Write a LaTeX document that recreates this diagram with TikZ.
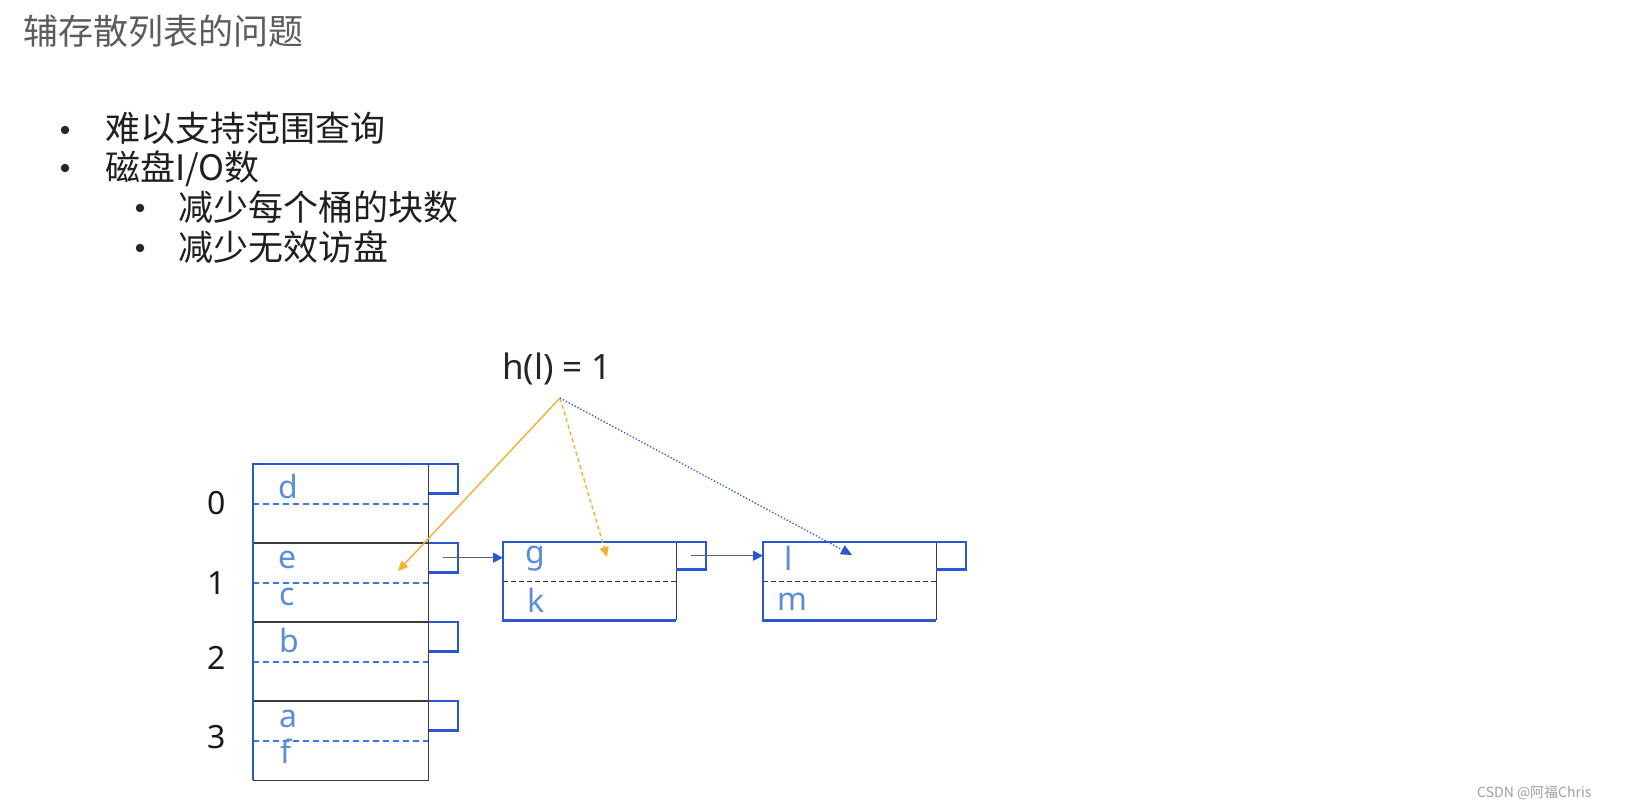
\documentclass[tikz,border=0pt]{standalone}
\usepackage{fontspec}
\setmainfont{Noto Sans}
\newfontfamily\cjk{Noto Sans CJK SC}
\usetikzlibrary{arrows.meta,positioning,calc}
\definecolor{edgeb}{HTML}{2A57D6}
\definecolor{edgeg}{HTML}{3C3C3C}
\definecolor{keyc}{HTML}{5A8CE0}
\definecolor{sepb}{HTML}{3A78F2}
\definecolor{hitc}{HTML}{F2B230}
\definecolor{titlec}{HTML}{5C5C5C}
\definecolor{markc}{HTML}{A0A0A0}
\tikzset{
  bkt/.style={rectangle, inner sep=0pt, minimum width=175pt, minimum height=79pt, anchor=north west},
  blk/.style={rectangle, inner sep=0pt, minimum width=173pt, minimum height=78pt, anchor=north west},
  ptr/.style={rectangle, inner sep=0pt, minimum size=29pt, anchor=north west},
  ptrs/.style={rectangle, inner sep=0pt, minimum width=29pt, minimum height=27pt, anchor=north west},
  bline/.style={draw=edgeb, line width=2.2pt},
  gline/.style={draw=edgeg, line width=1.6pt},
  sepline/.style={draw=sepb, line width=1.6pt, dash pattern=on 6pt off 4pt},
  dline/.style={draw=edgeg, line width=1.3pt, dash pattern=on 5pt off 3pt},
  keyl/.style={text=keyc, font=\fontsize{32}{38}\selectfont, inner sep=0pt, anchor=base west},
  idx/.style={text=black!90, font=\fontsize{32}{38}\selectfont, inner sep=0pt, anchor=base},
  bul/.style={text=black!88, font=\cjk\fontsize{35}{42}\selectfont, inner sep=0pt, anchor=base west},
  dotb/.style={circle, fill=black!85, inner sep=0pt, minimum size=8.5pt},
  link/.style={-{Triangle[length=10pt,width=10pt,color=edgeb]}, draw=edgeg!80, line width=1.3pt},
  hit/.style={-{Triangle[length=10pt,width=9pt]}, draw=hitc, line width=1.4pt},
  probe/.style={-{Triangle[length=11pt,width=10pt]}, draw=edgeb, line width=1.3pt, dotted},
}

\begin{document}
\begin{tikzpicture}[x=1pt, y=-1pt]
  \fill[white] (0,0) rectangle (1626,810);
  \useasboundingbox (0,0) rectangle (1626,810);
  % heading and list
  \node[font=\cjk\fontsize{35}{42}\selectfont, text=titlec, inner sep=0pt, anchor=base west] (title) at (23,45) {辅存散列表的问题};
  \node[dotb] (d1) at (65,130) {};
  \node[bul] (l1) at (105,142) {难以支持范围查询};
  \node[dotb] (d2) at (65,168) {};
  \node[bul] (l2) at (105,181) {磁盘I/O数};
  \node[dotb] (d3) at (140,208) {};
  \node[bul] (l3) at (178,221) {减少每个桶的块数};
  \node[dotb] (d4) at (140,248) {};
  \node[bul] (l4) at (178,261) {减少无效访盘};
  % bucket column
  \foreach \i/\yy in {0/464,1/543,2/622,3/701}{
    \node[bkt] (b\i) at (253,\yy) {};
    \node[ptr] (p\i) at (b\i.north east) {};
    \draw[sepline] (b\i.west) -- (b\i.east);
    \draw[bline] (p\i.north west) -- (p\i.north east) -- (p\i.south east) -- (p\i.south west);
  }
  \foreach \i in {1,2,3} \draw[gline] (b\i.north west) -- (b\i.north east);
  \draw[gline] (b0.north east) -- (b3.south east) -- (b3.south west);
  \draw[bline] (b3.south west) -- (b0.north west) -- (b0.north east);
  \node[idx] (n0) at (217,514) {0};
  \node[idx] (n1) at (217,594) {1};
  \node[idx] (n2) at (217,669) {2};
  \node[idx] (n3) at (217,748) {3};
  \node[keyl] (kd) at (278,498) {d};
  \node[keyl] (ke) at (278,568) {e};
  \node[keyl] (kc) at (279,605) {c};
  \node[keyl] (kb) at (279,652) {b};
  \node[keyl] (ka) at (279,727) {a};
  \node[keyl] (kf) at (280,763) {f};
  % overflow chain
  \node[blk] (c1) at (503,542) {};
  \node[ptrs] (q1) at (c1.north east) {};
  \node[blk] (c2) at (763,542) {};
  \node[ptrs] (q2) at (c2.north east) {};
  \foreach \c/\q in {c1/q1,c2/q2}{
    \draw[dline] (\c.west) -- (\c.east);
    \draw[gline] (\c.north east) -- (\c.south east);
    \draw[bline] (\c.north east) -- (\c.north west) -- (\c.south west) -- (\c.south east);
    \draw[bline] (\q.north west) -- (\q.north east) -- (\q.south east) -- (\q.south west);
  }
  \node[keyl] (kg) at (525,563) {g};
  \node[keyl] (kk) at (527,612) {k};
  \node[keyl] (kl) at (784,570) {l};
  \node[keyl] (km) at (777,610) {m};
  \draw[link] (p1.center) -- (p1.center -| c1.west);
  \draw[link] (q1.center) -- (q1.center -| c2.west);
  % lookup of l
  \node[font=\fontsize{35}{42}\selectfont, text=black!85, inner sep=0pt, anchor=base] (hl) at (557,380) {h(l) = 1};
  \coordinate (src) at (560,398);
  \coordinate (te) at (398,571);
  \coordinate (tg) at (607,557);
  \coordinate (tl) at (852,555);
  \draw[hit] (src) -- (te);
  \draw[hit, dash pattern=on 4pt off 3pt] (src) -- (tg);
  \draw[probe] (src) -- (tl);
  \node[font=\cjk\fontsize{14}{16}\selectfont, text=markc, inner sep=0pt, anchor=base west] (mark) at (1477,797) {CSDN @阿福Chris};
\end{tikzpicture}
\end{document}
